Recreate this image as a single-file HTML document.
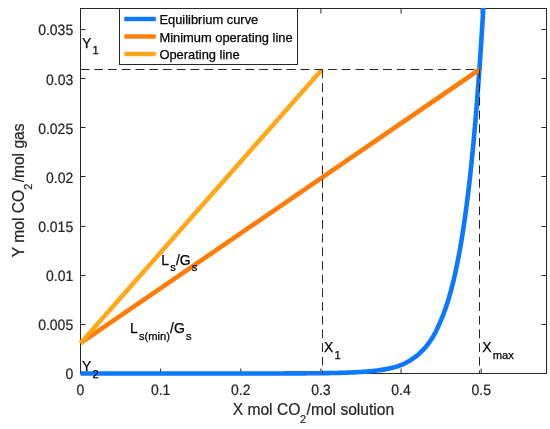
<!DOCTYPE html>
<html><head><meta charset="utf-8"><title>Equilibrium plot</title>
<style>html,body{margin:0;padding:0;background:#fff;overflow:hidden}body{width:550px;height:429px;position:relative}</style></head>
<body>
<svg width="550" height="429" viewBox="0 0 550 429" style="position:absolute;left:0;top:0">
<rect x="0" y="0" width="550" height="429" fill="#fff"/>
<defs><clipPath id="c"><rect x="77.5" y="8" width="469.5" height="368"/></clipPath></defs>
<rect x="80.5" y="8.5" width="466" height="365" fill="none" stroke="#262626" stroke-width="1"/>
<path d="M80.5 373.5 v-5 M80.5 8.5 v5 M160.64 373.5 v-5 M160.64 8.5 v5 M240.78 373.5 v-5 M240.78 8.5 v5 M320.92 373.5 v-5 M320.92 8.5 v5 M401.06 373.5 v-5 M401.06 8.5 v5 M481.2 373.5 v-5 M481.2 8.5 v5 M80.5 373.5 h5 M546.5 373.5 h-5 M80.5 324.5 h5 M546.5 324.5 h-5 M80.5 275.5 h5 M546.5 275.5 h-5 M80.5 226.5 h5 M546.5 226.5 h-5 M80.5 176.5 h5 M546.5 176.5 h-5 M80.5 127.5 h5 M546.5 127.5 h-5 M80.5 78.5 h5 M546.5 78.5 h-5 M80.5 29.5 h5 M546.5 29.5 h-5" stroke="#262626" stroke-width="1" fill="none"/>
<g clip-path="url(#c)" fill="none" stroke-width="4.6" stroke-linejoin="round">
<path d="M80.50 373.50 L228.01 373.49 L229.90 373.49 L231.79 373.49 L233.68 373.49 L235.56 373.49 L237.44 373.49 L239.32 373.49 L241.19 373.48 L243.06 373.48 L244.93 373.48 L246.79 373.48 L248.65 373.48 L250.51 373.48 L252.36 373.48 L254.21 373.48 L256.05 373.47 L257.89 373.47 L259.73 373.47 L261.56 373.47 L263.39 373.47 L265.22 373.46 L267.05 373.46 L268.87 373.46 L270.68 373.45 L272.50 373.45 L274.31 373.45 L276.11 373.44 L277.92 373.44 L279.72 373.44 L281.51 373.43 L283.30 373.43 L285.09 373.42 L286.88 373.42 L288.66 373.41 L290.44 373.41 L292.22 373.40 L293.99 373.39 L295.76 373.39 L297.52 373.38 L299.28 373.37 L301.04 373.36 L302.79 373.35 L304.54 373.34 L306.29 373.33 L308.03 373.32 L309.78 373.30 L311.51 373.29 L313.25 373.28 L314.98 373.26 L316.70 373.25 L318.42 373.23 L320.14 373.21 L321.86 373.19 L323.57 373.17 L325.28 373.15 L326.99 373.12 L328.69 373.09 L330.39 373.07 L332.06 373.04 L333.70 373.01 L335.35 372.97 L336.99 372.94 L338.63 372.90 L340.26 372.86 L341.89 372.81 L343.51 372.76 L345.14 372.71 L346.76 372.66 L348.37 372.60 L349.98 372.54 L351.59 372.47 L353.20 372.40 L354.80 372.33 L356.40 372.25 L357.99 372.16 L359.59 372.07 L361.19 371.97 L362.79 371.87 L364.40 371.75 L366.00 371.63 L367.60 371.51 L369.19 371.37 L370.79 371.22 L372.37 371.07 L373.96 370.90 L375.54 370.72 L377.12 370.53 L378.69 370.33 L380.26 370.11 L381.83 369.88 L383.39 369.63 L384.95 369.36 L386.49 369.08 L388.03 368.77 L389.56 368.45 L391.10 368.10 L392.63 367.73 L394.15 367.34 L395.67 366.91 L397.19 366.46 L398.66 365.98 L400.04 365.46 L401.42 364.91 L402.80 364.32 L404.17 363.69 L405.54 363.01 L406.91 362.29 L408.27 361.52 L409.63 360.70 L410.99 359.82 L412.34 358.89 L413.82 357.88 L415.32 356.81 L416.82 355.66 L418.31 354.44 L419.80 353.13 L421.29 351.73 L422.77 350.24 L424.25 348.64 L425.74 346.93 L427.23 345.11 L428.72 343.16 L430.21 341.08 L431.69 338.85 L433.17 336.47 L434.58 333.93 L435.99 331.21 L437.38 328.31 L438.78 325.20 L440.26 321.89 L441.77 318.35 L443.28 314.56 L444.78 310.51 L446.28 306.19 L447.78 301.56 L449.27 296.63 L450.76 291.35 L452.25 285.71 L453.73 279.68 L455.21 273.24 L456.68 266.35 L458.16 259.00 L459.62 251.14 L461.09 242.73 L462.55 233.76 L464.01 224.16 L465.46 213.91 L466.91 202.95 L468.36 191.24 L469.81 178.73 L471.25 165.35 L472.68 151.06 L474.12 135.79 L475.55 119.47 L476.97 102.03 L478.40 83.39 L479.82 63.47 L481.23 42.18 L482.65 19.43 L484.06 -4.88" stroke="#0a79ff"/>
<path d="M80.5 343.2 L479.5 69.5" stroke="#ff7c08"/>
<path d="M80.5 343.2 L322 69.5" stroke="#ffa919"/>
</g>
<path d="M80.5 69.5 H479.5" stroke="#262626" stroke-width="1" stroke-dasharray="8.8 4.95" fill="none"/>
<path d="M322.5 373.5 V69.5" stroke-dashoffset="5.8" stroke="#262626" stroke-width="1" stroke-dasharray="8.8 4.88" fill="none"/>
<path d="M479.5 373.5 V69.5" stroke-dashoffset="5.8" stroke="#262626" stroke-width="1" stroke-dasharray="8.8 4.88" fill="none"/>
<rect x="119.5" y="8.5" width="178" height="56" fill="#fff" stroke="#262626" stroke-width="1"/>
<path d="M124.3 19 H155.8" stroke="#0a79ff" stroke-width="4.4"/>
<path d="M124.3 36.5 H155.8" stroke="#ff7c08" stroke-width="4.4"/>
<path d="M124.3 54 H155.8" stroke="#ffa919" stroke-width="4.4"/>
<g font-family="'Liberation Sans', sans-serif" fill="#000" stroke="#000" stroke-width="0.25" stroke-linejoin="round">
<g font-size="12.9">
<text x="159.4" y="24.4">Equilibrium curve</text>
<text x="159.4" y="41.9">Minimum operating line</text>
<text x="159.4" y="59.4">Operating line</text>
</g>
<g font-size="14" fill="#262626" stroke="#262626" stroke-width="0.22" text-rendering="geometricPrecision">
<text transform="translate(80.5 394.7) scale(1 1.07)" text-anchor="middle">0</text>
<text transform="translate(160.64 394.7) scale(1 1.07)" text-anchor="middle">0.1</text>
<text transform="translate(240.78 394.7) scale(1 1.07)" text-anchor="middle">0.2</text>
<text transform="translate(320.92 394.7) scale(1 1.07)" text-anchor="middle">0.3</text>
<text transform="translate(401.06 394.7) scale(1 1.07)" text-anchor="middle">0.4</text>
<text transform="translate(481.2 394.7) scale(1 1.07)" text-anchor="middle">0.5</text>
<text transform="translate(73.2 379.4) scale(1 1.07)" text-anchor="end">0</text>
<text transform="translate(73.2 330.26) scale(1 1.07)" text-anchor="end">0.005</text>
<text transform="translate(73.2 281.12) scale(1 1.07)" text-anchor="end">0.01</text>
<text transform="translate(73.2 231.98) scale(1 1.07)" text-anchor="end">0.015</text>
<text transform="translate(73.2 182.84) scale(1 1.07)" text-anchor="end">0.02</text>
<text transform="translate(73.2 133.7) scale(1 1.07)" text-anchor="end">0.025</text>
<text transform="translate(73.2 84.56) scale(1 1.07)" text-anchor="end">0.03</text>
<text transform="translate(73.2 35.42) scale(1 1.07)" text-anchor="end">0.035</text>
</g>
<g font-size="15.6" fill="#262626" stroke="#262626" stroke-width="0.22">
<text x="232.7" y="415.3">X mol CO<tspan font-size="11" dx="-0.3" dy="7.8">2</tspan><tspan dy="-7.8" dx="0.5">/mol solution</tspan></text>
<text transform="translate(23.7 257.2) rotate(-90)">Y mol CO<tspan font-size="11" dx="0.2" dy="7.8">2</tspan><tspan dy="-7.8" dx="1.2">/mol gas</tspan></text>
</g>
<g font-size="14">
<text x="82" y="47.5">Y<tspan font-size="11.2" dx="1.2" dy="6.9">1</tspan></text>
<text x="82" y="371">Y<tspan font-size="11.2" dx="1.2" dy="6.9">2</tspan></text>
<text x="324" y="352">X<tspan font-size="11.2" dx="1.2" dy="6.9">1</tspan></text>
<text x="482.2" y="351.8">X<tspan font-size="11.2" dx="1.2" dy="6.9">max</tspan></text>
<text x="161.3" y="264.5">L<tspan font-size="11.2" dx="1.2" dy="6.9">s</tspan><tspan dy="-6.9">/G</tspan><tspan font-size="11.2" dx="1.2" dy="6.9">s</tspan></text>
<text x="130" y="333">L<tspan font-size="11.2" dx="1.2" dy="6.9">s(min)</tspan><tspan dy="-6.9">/G</tspan><tspan font-size="11.2" dx="1.2" dy="6.9">s</tspan></text>
</g>
</g>
</svg>
</body></html>
